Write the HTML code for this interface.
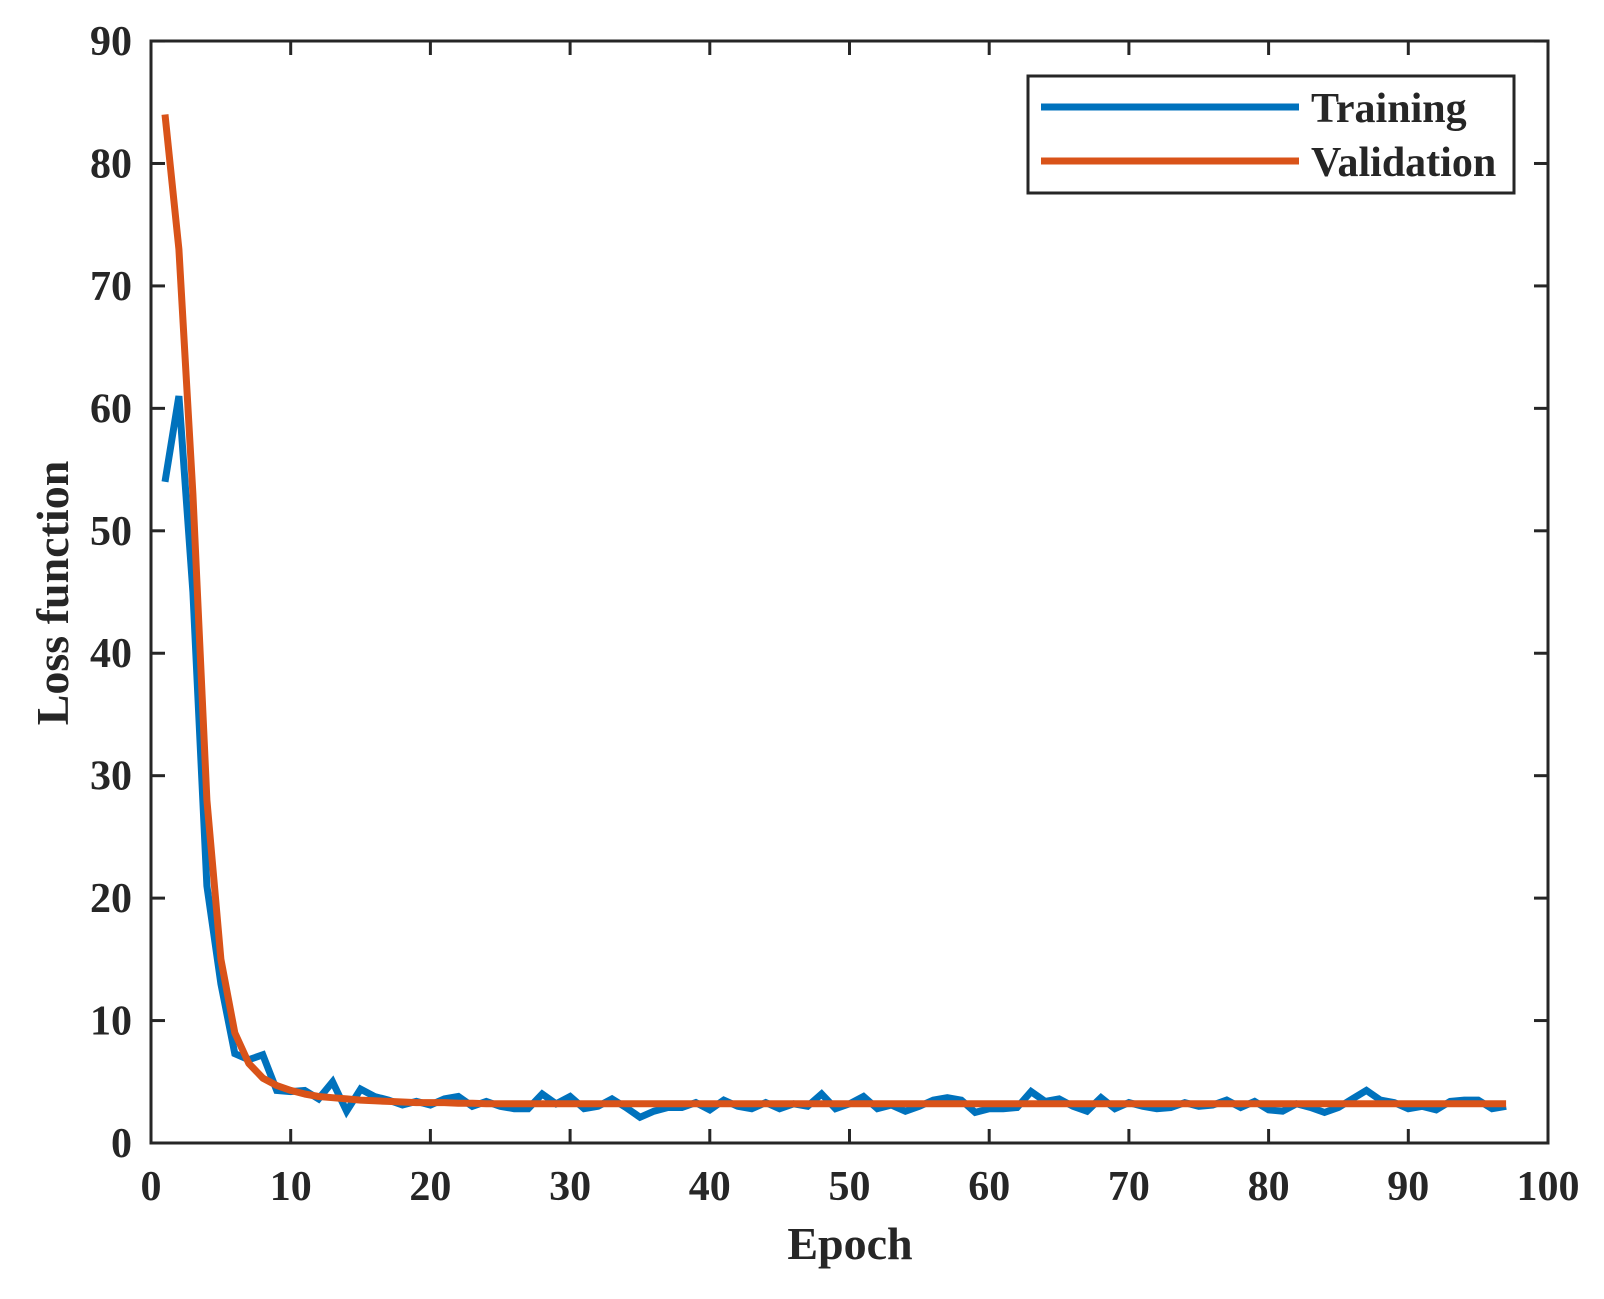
<!DOCTYPE html>
<html><head><meta charset="utf-8"><style>
html,body{margin:0;padding:0;background:#fff}
svg{display:block}
text{font-family:"Liberation Serif",serif;font-weight:bold;fill:#262626}
</style></head><body>
<svg id="s" width="1604" height="1299" viewBox="0 0 1604 1299" xmlns="http://www.w3.org/2000/svg">
<rect width="1604" height="1299" fill="#fff"/>
<g id="ticks" stroke="#262626" stroke-width="3"></g>
<g id="labels" font-size="42"></g>
<polyline id="tr" fill="none" stroke="#0072BD" stroke-width="7" stroke-linejoin="miter"/>
<polyline id="va" fill="none" stroke="#D95319" stroke-width="7" stroke-linejoin="round"/>
<rect x="151" y="41" width="1397" height="1102" fill="none" stroke="#262626" stroke-width="3"/>
<rect x="1028" y="76" width="486" height="117" fill="#fff" stroke="#262626" stroke-width="3"/>
<line x1="1041" y1="107" x2="1299" y2="107" stroke="#0072BD" stroke-width="7"/>
<line x1="1041" y1="161" x2="1299" y2="161" stroke="#D95319" stroke-width="7"/>
<text x="1311" y="122" font-size="42" fill="#000">Training</text>
<text x="1311" y="176" font-size="42" fill="#000">Validation</text>
<text x="850" y="1259" font-size="46" text-anchor="middle">Epoch</text>
<text transform="translate(68,593) rotate(-90)" font-size="46" text-anchor="middle">Loss function</text>
</svg>
<script>
var X=function(e){return 151+e*13.97},Y=function(v){return 1143-v*12.244};
var ns="http://www.w3.org/2000/svg";
var tk=document.getElementById('ticks'),lb=document.getElementById('labels');
function ln(a,b,c,d){var l=document.createElementNS(ns,'line');l.setAttribute('x1',a);l.setAttribute('y1',b);l.setAttribute('x2',c);l.setAttribute('y2',d);tk.appendChild(l);}
function tx(x,y,t,anc){var e=document.createElementNS(ns,'text');e.setAttribute('x',x);e.setAttribute('y',y);e.setAttribute('text-anchor',anc);e.textContent=t;lb.appendChild(e);}
for(var i=0;i<=100;i+=10){var x=X(i);ln(x,1143,x,1129);ln(x,41,x,55);tx(x,1200,i,'middle');}
for(var v=0;v<=90;v+=10){var y=Y(v);ln(151,y,165,y);ln(1548,y,1534,y);tx(132,y+14,v,'end');}
var t=[54,61,45,21,13,7.3,6.8,7.2,4.3,4.2,4.3,3.6,5.0,2.6,4.4,3.8,3.5,3.1,3.4,3.1,3.6,3.8,3.0,3.4,3.0,2.8,2.8,4.0,3.2,3.8,2.8,3.0,3.6,2.9,2.1,2.6,2.9,2.9,3.3,2.7,3.5,3.0,2.8,3.3,2.8,3.2,3.0,4.0,2.8,3.2,3.8,2.8,3.1,2.6,3.0,3.5,3.7,3.5,2.5,2.8,2.8,2.9,4.2,3.4,3.6,3.0,2.6,3.7,2.8,3.3,3.0,2.8,2.9,3.3,3.0,3.1,3.5,2.9,3.4,2.7,2.6,3.2,2.9,2.5,2.9,3.6,4.3,3.5,3.3,2.8,3.0,2.7,3.4,3.5,3.5,2.8,3.0];
var va=[84,73,53,28,15,9,6.5,5.3,4.7,4.3,4.0,3.8,3.7,3.6,3.5,3.45,3.4,3.35,3.3,3.3,3.3,3.25,3.25];
while(va.length<97)va.push(3.2);
function pts(a){return a.map(function(v,i){return X(i+1).toFixed(1)+','+Y(v).toFixed(1)}).join(' ');}
document.getElementById('tr').setAttribute('points',pts(t));
document.getElementById('va').setAttribute('points',pts(va));
</script>
</body></html>
